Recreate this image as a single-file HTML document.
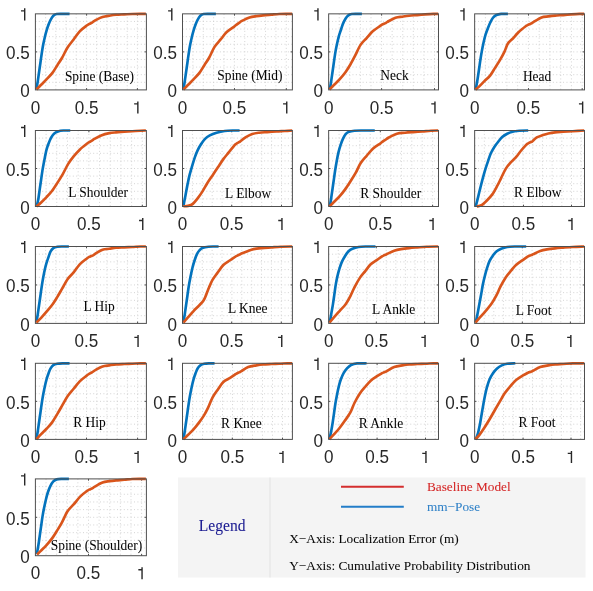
<!DOCTYPE html>
<html><head><meta charset="utf-8"><style>
html,body{margin:0;padding:0;background:#fff;width:593px;height:591px;overflow:hidden}
svg{display:block}
text{font-family:"Liberation Sans",sans-serif;font-size:18px;fill:#262626}
text.t{font-family:"Liberation Serif",serif;font-size:14px;fill:#000;stroke:#000;stroke-width:0.05px}
text.l2{font-size:13.3px}
text.lg{font-family:"Liberation Serif",serif;font-size:16.3px;fill:#16168f;stroke:#16168f;stroke-width:0.1px}
</style></head><body>
<svg width="593" height="591" viewBox="0 0 593 591">
<rect width="593" height="591" fill="#fff"/>
<g opacity="0.99">
<path d="M45.6 13.85V89.9M55.8 13.85V89.9M66 13.85V89.9M76.2 13.85V89.9M86.4 13.85V89.9M96.6 13.85V89.9M106.8 13.85V89.9M117 13.85V89.9M127.2 13.85V89.9M137.4 13.85V89.9M35.4 82.3H146.4M35.4 74.69H146.4M35.4 67.09H146.4M35.4 59.48H146.4M35.4 51.88H146.4M35.4 44.27H146.4M35.4 36.66H146.4M35.4 29.06H146.4M35.4 21.45H146.4" stroke="#cfcfcf" stroke-width="0.9" stroke-dasharray="1 2.4" fill="none"/>
<path d="M86.6 89.9v-1.8M86.6 13.85v1.8M137.4 89.9v-1.8M137.4 13.85v1.8M35.4 51.88h1.8M146.4 51.88h-1.8" stroke="#4d4d4d" stroke-width="1" fill="none"/>
<path d="M36.39 89.28C36.6 88.03 37.31 84.2 37.74 81.43C38.17 78.66 38.66 74.98 39.09 71.95C39.53 68.91 40.02 65.5 40.45 62.47C40.88 59.43 41.37 55.8 41.8 52.99C42.24 50.17 42.66 47.46 43.16 44.86C43.66 42.26 44.38 39.01 44.92 36.73C45.46 34.46 45.96 32.59 46.54 30.64C47.13 28.69 47.93 26.28 48.58 24.54C49.23 22.81 49.85 21.21 50.61 19.8C51.37 18.4 52.34 16.67 53.32 15.74C54.29 14.81 55.4 14.28 56.7 13.98C58 13.85 60.03 13.87 61.44 13.85C62.85 13.85 64.21 13.85 65.51 13.85C66.81 13.85 68.92 13.85 69.57 13.85" stroke="#0072BD" stroke-width="2.65" fill="none" stroke-linejoin="round"/>
<path d="M36.39 89.56C37.14 88.8 39.5 86.44 41.13 84.81C42.75 83.19 44.7 81.35 46.54 79.4C48.39 77.45 50.91 74.9 52.64 72.63C54.37 70.35 55.86 67.56 57.38 65.18C58.9 62.79 60.49 60.54 62.12 57.73C63.74 54.91 65.7 50.49 67.54 47.57C69.38 44.64 71.68 42.04 73.63 39.44C75.58 36.84 77.56 33.59 79.73 31.32C81.89 29.04 85.69 26.38 87.18 25.22C88.66 24.06 88.6 24.3 89 24.08C89.4 23.85 89.45 23.91 89.67 23.83C89.88 23.74 90.12 23.63 90.33 23.53C90.55 23.43 90.79 23.3 91 23.19C91.21 23.07 91.45 22.93 91.67 22.8C91.88 22.67 92.12 22.51 92.33 22.37C92.55 22.22 92.23 22.36 93 21.89C93.77 21.41 95.6 20.16 97.13 19.4C98.65 18.63 100.59 17.68 102.54 17.09C104.49 16.51 107.15 16.11 109.32 15.74C111.48 15.37 113.7 15.01 116.09 14.79C118.47 14.58 121.61 14.52 124.21 14.39C126.81 14.26 129.74 14.07 132.34 13.98C134.94 13.89 138.3 13.87 140.47 13.85C142.63 13.85 145.02 13.85 145.88 13.85" stroke="#D95319" stroke-width="2.65" fill="none" stroke-linejoin="round"/>
<rect x="35.4" y="13.85" width="111" height="76.05" fill="none" stroke="#4d4d4d" stroke-width="1"/>
<text transform="translate(35.4 113.5) scale(0.95 1)" text-anchor="middle">0</text>
<text transform="translate(86.6 113.5) scale(0.95 1)" text-anchor="middle">0.5</text>
<path d="M137.85 101.4V113.5M134.15 103.9L137.85 103.7" stroke="#262626" stroke-width="1.4" fill="none"/>
<text transform="translate(29.8 97.1) scale(0.95 1)" text-anchor="end">0</text>
<text transform="translate(29.8 59.08) scale(0.95 1)" text-anchor="end">0.5</text>
<path d="M24.7 8.35V20.45M21 10.85L24.7 10.65" stroke="#262626" stroke-width="1.4" fill="none"/>
<text class="t" transform="translate(64.9 80.9) scale(0.96 1)">Spine (Base)</text>
<path d="M192.88 13.85V89.9M203.26 13.85V89.9M213.64 13.85V89.9M224.02 13.85V89.9M234.4 13.85V89.9M244.78 13.85V89.9M255.16 13.85V89.9M265.54 13.85V89.9M275.92 13.85V89.9M286.3 13.85V89.9M182.5 82.3H292.4M182.5 74.69H292.4M182.5 67.09H292.4M182.5 59.48H292.4M182.5 51.88H292.4M182.5 44.27H292.4M182.5 36.66H292.4M182.5 29.06H292.4M182.5 21.45H292.4" stroke="#cfcfcf" stroke-width="0.9" stroke-dasharray="1 2.4" fill="none"/>
<path d="M234.5 89.9v-1.8M234.5 13.85v1.8M286.3 89.9v-1.8M286.3 13.85v1.8M182.5 51.88h1.8M292.4 51.88h-1.8" stroke="#4d4d4d" stroke-width="1" fill="none"/>
<path d="M183.39 89.28C183.6 88.03 184.31 84.2 184.74 81.43C185.17 78.66 185.66 74.98 186.09 71.95C186.53 68.91 187.02 65.5 187.45 62.47C187.88 59.43 188.37 55.8 188.8 52.99C189.24 50.17 189.66 47.46 190.16 44.86C190.66 42.26 191.38 39.01 191.92 36.73C192.46 34.46 192.96 32.59 193.54 30.64C194.13 28.69 194.93 26.28 195.58 24.54C196.23 22.81 196.85 21.21 197.61 19.8C198.37 18.4 199.34 16.67 200.32 15.74C201.29 14.81 202.4 14.28 203.7 13.98C205 13.85 207.03 13.87 208.44 13.85C209.85 13.85 211.31 13.85 212.51 13.85C213.7 13.85 215.35 13.85 215.89 13.85" stroke="#0072BD" stroke-width="2.65" fill="none" stroke-linejoin="round"/>
<path d="M183.39 89.56C184.14 88.8 186.5 86.44 188.13 84.81C189.75 83.19 191.7 81.35 193.54 79.4C195.39 77.45 197.91 74.9 199.64 72.63C201.37 70.35 202.86 67.56 204.38 65.18C205.9 62.79 207.49 60.65 209.12 57.73C210.74 54.8 212.7 49.82 214.54 46.89C216.38 43.97 218.68 41.83 220.63 39.44C222.58 37.06 224.56 34.05 226.73 31.99C228.89 29.93 232.69 27.68 234.18 26.58C235.66 25.47 235.6 25.41 236 25.09C236.4 24.77 236.45 24.74 236.67 24.58C236.88 24.42 237.12 24.24 237.33 24.08C237.55 23.92 237.79 23.75 238 23.59C238.21 23.44 238.45 23.27 238.67 23.12C238.88 22.97 239.12 22.81 239.33 22.66C239.55 22.52 239.67 22.46 240 22.22C240.33 21.98 239.89 21.91 241.42 21.16C242.94 20.4 247.16 18.3 249.54 17.5C251.93 16.7 254.15 16.49 256.32 16.15C258.48 15.8 260.7 15.57 263.09 15.33C265.47 15.1 268.61 14.87 271.21 14.66C273.81 14.44 276.74 14.11 279.34 13.98C281.94 13.85 285.41 13.87 287.47 13.85C289.53 13.85 291.45 13.85 292.21 13.85" stroke="#D95319" stroke-width="2.65" fill="none" stroke-linejoin="round"/>
<rect x="182.5" y="13.85" width="109.9" height="76.05" fill="none" stroke="#4d4d4d" stroke-width="1"/>
<text transform="translate(182.5 113.5) scale(0.95 1)" text-anchor="middle">0</text>
<text transform="translate(234.5 113.5) scale(0.95 1)" text-anchor="middle">0.5</text>
<path d="M286.75 101.4V113.5M283.05 103.9L286.75 103.7" stroke="#262626" stroke-width="1.4" fill="none"/>
<text transform="translate(176.9 97.1) scale(0.95 1)" text-anchor="end">0</text>
<text transform="translate(176.9 59.08) scale(0.95 1)" text-anchor="end">0.5</text>
<path d="M171.8 8.35V20.45M168.1 10.85L171.8 10.65" stroke="#262626" stroke-width="1.4" fill="none"/>
<text class="t" transform="translate(217.2 80.3) scale(0.96 1)">Spine (Mid)</text>
<path d="M339.23 13.85V89.9M349.82 13.85V89.9M360.4 13.85V89.9M370.99 13.85V89.9M381.57 13.85V89.9M392.16 13.85V89.9M402.75 13.85V89.9M413.33 13.85V89.9M423.91 13.85V89.9M434.5 13.85V89.9M328.65 82.3H438.5M328.65 74.69H438.5M328.65 67.09H438.5M328.65 59.48H438.5M328.65 51.88H438.5M328.65 44.27H438.5M328.65 36.66H438.5M328.65 29.06H438.5M328.65 21.45H438.5" stroke="#cfcfcf" stroke-width="0.9" stroke-dasharray="1 2.4" fill="none"/>
<path d="M381.6 89.9v-1.8M381.6 13.85v1.8M434.5 89.9v-1.8M434.5 13.85v1.8M328.65 51.88h1.8M438.5 51.88h-1.8" stroke="#4d4d4d" stroke-width="1" fill="none"/>
<path d="M329.79 89.28C330.01 88.03 330.71 84.2 331.15 81.43C331.58 78.66 332.07 74.98 332.5 71.95C332.93 68.91 333.38 65.72 333.86 62.47C334.33 59.22 334.96 54.67 335.48 51.63C336 48.6 336.56 46 337.11 43.51C337.65 41.01 338.26 38.22 338.87 36.06C339.47 33.89 340.25 31.91 340.9 29.96C341.55 28.01 342.17 25.71 342.93 23.87C343.69 22.02 344.77 19.81 345.64 18.45C346.51 17.08 347.37 16.05 348.35 15.33C349.32 14.62 350.43 14.22 351.73 13.98C353.03 13.85 354.85 13.87 356.47 13.85C358.1 13.85 361.02 13.85 361.89 13.85" stroke="#0072BD" stroke-width="2.65" fill="none" stroke-linejoin="round"/>
<path d="M329.39 89.56C330.14 88.8 332.5 86.44 334.13 84.81C335.75 83.19 337.7 81.46 339.54 79.4C341.39 77.34 343.91 74.33 345.64 71.95C347.37 69.56 348.86 67.1 350.38 64.5C351.9 61.9 353.49 58.84 355.12 55.7C356.74 52.55 358.7 47.68 360.54 44.86C362.38 42.04 364.68 40.26 366.63 38.09C368.58 35.92 370.56 33.27 372.73 31.32C374.89 29.37 378.69 26.97 380.18 25.9C381.66 24.83 381.6 24.88 382 24.63C382.4 24.37 382.45 24.42 382.67 24.33C382.88 24.23 383.12 24.12 383.33 24.03C383.55 23.93 383.79 23.82 384 23.73C384.21 23.63 384.45 23.53 384.67 23.43C384.88 23.33 385.12 23.22 385.33 23.13C385.55 23.03 385.67 23.03 386 22.83C386.33 22.62 385.89 22.64 387.42 21.84C388.94 21.03 393.16 18.6 395.54 17.77C397.93 16.95 400.15 17.01 402.32 16.69C404.48 16.36 406.7 16 409.09 15.74C411.47 15.48 414.61 15.28 417.21 15.06C419.81 14.85 422.74 14.58 425.34 14.39C427.94 14.19 431.41 13.94 433.47 13.85C435.53 13.85 437.45 13.85 438.21 13.85" stroke="#D95319" stroke-width="2.65" fill="none" stroke-linejoin="round"/>
<rect x="328.65" y="13.85" width="109.85" height="76.05" fill="none" stroke="#4d4d4d" stroke-width="1"/>
<text transform="translate(328.65 113.5) scale(0.95 1)" text-anchor="middle">0</text>
<text transform="translate(381.6 113.5) scale(0.95 1)" text-anchor="middle">0.5</text>
<path d="M434.95 101.4V113.5M431.25 103.9L434.95 103.7" stroke="#262626" stroke-width="1.4" fill="none"/>
<text transform="translate(323.05 97.1) scale(0.95 1)" text-anchor="end">0</text>
<text transform="translate(323.05 59.08) scale(0.95 1)" text-anchor="end">0.5</text>
<path d="M317.95 8.35V20.45M314.25 10.85L317.95 10.65" stroke="#262626" stroke-width="1.4" fill="none"/>
<text class="t" transform="translate(380.3 79.9) scale(0.96 1)">Neck</text>
<path d="M485.4 13.85V89.9M496.16 13.85V89.9M506.92 13.85V89.9M517.67 13.85V89.9M528.42 13.85V89.9M539.18 13.85V89.9M549.94 13.85V89.9M560.69 13.85V89.9M571.45 13.85V89.9M582.2 13.85V89.9M474.65 82.3H584.5M474.65 74.69H584.5M474.65 67.09H584.5M474.65 59.48H584.5M474.65 51.88H584.5M474.65 44.27H584.5M474.65 36.66H584.5M474.65 29.06H584.5M474.65 21.45H584.5" stroke="#cfcfcf" stroke-width="0.9" stroke-dasharray="1 2.4" fill="none"/>
<path d="M528.5 89.9v-1.8M528.5 13.85v1.8M582.2 89.9v-1.8M582.2 13.85v1.8M474.65 51.88h1.8M584.5 51.88h-1.8" stroke="#4d4d4d" stroke-width="1" fill="none"/>
<path d="M475.79 89.28C476.05 87.81 476.9 83.28 477.42 80.07C477.94 76.87 478.57 72.49 479.04 69.24C479.52 65.99 479.96 62.58 480.4 59.76C480.83 56.94 481.25 54.34 481.75 51.63C482.25 48.92 482.91 45.54 483.51 42.83C484.12 40.12 484.83 37.09 485.54 34.7C486.26 32.32 487.22 29.88 487.98 27.93C488.74 25.98 489.48 24.14 490.28 22.51C491.09 20.89 492.02 18.96 492.99 17.77C493.97 16.58 495.08 15.69 496.38 15.06C497.68 14.44 499.28 14.04 501.12 13.85C502.96 13.85 506.81 13.85 507.89 13.85" stroke="#0072BD" stroke-width="2.65" fill="none" stroke-linejoin="round"/>
<path d="M475.39 89.56C475.93 89.12 477.36 88.15 478.77 86.85C480.18 85.55 482.35 83.27 484.19 81.43C486.03 79.59 488.55 77.5 490.28 75.33C492.02 73.17 493.51 70.27 495.02 67.88C496.54 65.5 498.25 63.04 499.77 60.44C501.28 57.84 503.21 54.34 504.51 51.63C505.81 48.92 506.59 45.56 507.89 43.51C509.19 41.45 510.9 40.61 512.63 38.77C514.37 36.92 516.56 34.05 518.73 31.99C520.89 29.93 524.69 27.04 526.18 25.9C527.66 24.75 527.6 25.05 528 24.84C528.4 24.63 528.45 24.66 528.67 24.57C528.88 24.49 529.12 24.39 529.33 24.3C529.55 24.2 529.79 24.1 530 24C530.21 23.9 530.45 23.79 530.67 23.69C530.88 23.59 531.12 23.47 531.33 23.37C531.55 23.26 531.67 23.23 532 23.03C532.33 22.83 531.89 22.99 533.42 22.11C534.94 21.22 539.16 18.41 541.54 17.5C543.93 16.59 546.15 16.72 548.32 16.42C550.48 16.11 552.7 15.82 555.09 15.6C557.47 15.39 560.61 15.26 563.21 15.06C565.81 14.87 568.74 14.58 571.34 14.39C573.94 14.19 577.41 13.94 579.47 13.85C581.53 13.85 583.45 13.85 584.21 13.85" stroke="#D95319" stroke-width="2.65" fill="none" stroke-linejoin="round"/>
<rect x="474.65" y="13.85" width="109.85" height="76.05" fill="none" stroke="#4d4d4d" stroke-width="1"/>
<text transform="translate(474.65 113.5) scale(0.95 1)" text-anchor="middle">0</text>
<text transform="translate(528.5 113.5) scale(0.95 1)" text-anchor="middle">0.5</text>
<path d="M582.65 101.4V113.5M578.95 103.9L582.65 103.7" stroke="#262626" stroke-width="1.4" fill="none"/>
<text transform="translate(469.05 97.1) scale(0.95 1)" text-anchor="end">0</text>
<text transform="translate(469.05 59.08) scale(0.95 1)" text-anchor="end">0.5</text>
<path d="M463.95 8.35V20.45M460.25 10.85L463.95 10.65" stroke="#262626" stroke-width="1.4" fill="none"/>
<text class="t" transform="translate(522.9 80.8) scale(0.96 1)">Head</text>
<path d="M46.09 130.5V206.5M56.78 130.5V206.5M67.47 130.5V206.5M78.16 130.5V206.5M88.85 130.5V206.5M99.54 130.5V206.5M110.23 130.5V206.5M120.92 130.5V206.5M131.61 130.5V206.5M142.3 130.5V206.5M35.4 198.9H146.4M35.4 191.3H146.4M35.4 183.7H146.4M35.4 176.1H146.4M35.4 168.5H146.4M35.4 160.9H146.4M35.4 153.3H146.4M35.4 145.7H146.4M35.4 138.1H146.4" stroke="#cfcfcf" stroke-width="0.9" stroke-dasharray="1 2.4" fill="none"/>
<path d="M88.9 206.5v-1.8M88.9 130.5v1.8M142.3 206.5v-1.8M142.3 130.5v1.8M35.4 168.5h1.8M146.4 168.5h-1.8" stroke="#4d4d4d" stroke-width="1" fill="none"/>
<path d="M36.79 206.28C37.05 205.03 37.94 201.2 38.42 198.43C38.89 195.66 39.34 191.98 39.77 188.95C40.21 185.91 40.65 182.72 41.13 179.47C41.6 176.22 42.21 171.88 42.75 168.63C43.29 165.38 43.91 162.19 44.51 159.15C45.12 156.12 45.89 152.16 46.54 149.67C47.19 147.18 47.82 145.53 48.58 143.58C49.33 141.63 50.42 139.06 51.28 137.48C52.15 135.9 52.91 134.66 53.99 133.69C55.08 132.71 56.54 131.9 58.06 131.39C59.57 130.88 61.52 130.64 63.47 130.5C65.42 130.5 69.16 130.5 70.25 130.5" stroke="#0072BD" stroke-width="2.65" fill="none" stroke-linejoin="round"/>
<path d="M36.39 206.5C37.14 205.86 39.5 204 41.13 202.49C42.75 200.98 44.81 198.92 46.54 197.07C48.28 195.23 50.23 193.26 51.96 190.98C53.7 188.7 55.65 185.56 57.38 182.85C59.11 180.14 61.06 177.08 62.8 174.05C64.53 171.02 66.48 166.71 68.21 163.89C69.95 161.07 71.79 158.72 73.63 156.44C75.47 154.17 77.56 151.73 79.73 149.67C81.89 147.61 85.69 144.75 87.18 143.58C88.66 142.4 88.6 142.57 89 142.3C89.4 142.04 89.45 142.05 89.67 141.93C89.88 141.81 90.12 141.67 90.33 141.55C90.55 141.42 90.79 141.28 91 141.15C91.21 141.02 91.45 140.88 91.67 140.75C91.88 140.61 92.12 140.46 92.33 140.33C92.55 140.19 92.67 140.14 93 139.9C93.33 139.66 93.11 139.55 94.42 138.84C95.73 138.12 98.81 136.36 101.19 135.45C103.57 134.54 106.93 133.65 109.32 133.15C111.7 132.65 113.7 132.55 116.09 132.33C118.47 132.12 121.61 131.97 124.21 131.79C126.81 131.62 129.74 131.42 132.34 131.25C134.94 131.08 138.3 130.83 140.47 130.71C142.63 130.59 145.02 130.53 145.88 130.5" stroke="#D95319" stroke-width="2.65" fill="none" stroke-linejoin="round"/>
<rect x="35.4" y="130.5" width="111" height="76" fill="none" stroke="#4d4d4d" stroke-width="1"/>
<text transform="translate(35.4 230.1) scale(0.95 1)" text-anchor="middle">0</text>
<text transform="translate(88.9 230.1) scale(0.95 1)" text-anchor="middle">0.5</text>
<path d="M142.75 218V230.1M139.05 220.5L142.75 220.3" stroke="#262626" stroke-width="1.4" fill="none"/>
<text transform="translate(29.8 213.7) scale(0.95 1)" text-anchor="end">0</text>
<text transform="translate(29.8 175.7) scale(0.95 1)" text-anchor="end">0.5</text>
<path d="M24.7 125V137.1M21 127.5L24.7 127.3" stroke="#262626" stroke-width="1.4" fill="none"/>
<text class="t" transform="translate(68.3 197.3) scale(0.96 1)">L Shoulder</text>
<path d="M192.4 130.5V206.5M202.3 130.5V206.5M212.2 130.5V206.5M222.1 130.5V206.5M232 130.5V206.5M241.9 130.5V206.5M251.8 130.5V206.5M261.7 130.5V206.5M271.6 130.5V206.5M281.5 130.5V206.5M291.4 130.5V206.5M182.5 198.9H292.4M182.5 191.3H292.4M182.5 183.7H292.4M182.5 176.1H292.4M182.5 168.5H292.4M182.5 160.9H292.4M182.5 153.3H292.4M182.5 145.7H292.4M182.5 138.1H292.4" stroke="#cfcfcf" stroke-width="0.9" stroke-dasharray="1 2.4" fill="none"/>
<path d="M231.7 206.5v-1.8M231.7 130.5v1.8M281.5 206.5v-1.8M281.5 130.5v1.8M182.5 168.5h1.8M292.4 168.5h-1.8" stroke="#4d4d4d" stroke-width="1" fill="none"/>
<path d="M183.39 205.88C183.71 204.25 184.77 199.08 185.42 195.72C186.07 192.36 186.8 188.14 187.45 184.88C188.1 181.63 188.72 178.44 189.48 175.4C190.24 172.37 191.32 168.85 192.19 165.92C193.06 163 194.03 159.61 194.9 157.12C195.77 154.63 196.63 152.41 197.61 150.35C198.58 148.29 199.8 146.09 200.99 144.25C202.19 142.41 203.65 140.24 205.06 138.84C206.47 137.43 207.95 136.42 209.8 135.45C211.64 134.47 214.19 133.46 216.57 132.74C218.95 132.03 221.88 131.34 224.7 130.98C227.51 130.62 231.79 130.58 234.18 130.5C236.56 130.5 238.73 130.5 239.59 130.5" stroke="#0072BD" stroke-width="2.65" fill="none" stroke-linejoin="round"/>
<path d="M183.39 206.28C184.14 206.22 186.61 206.27 188.13 205.88C189.64 205.49 191.35 205.04 192.87 203.85C194.38 202.65 196.09 200.38 197.61 198.43C199.12 196.48 200.83 194.04 202.35 191.66C203.86 189.27 205.46 186.13 207.09 183.53C208.71 180.93 210.77 178 212.51 175.4C214.24 172.8 216.19 169.88 217.92 167.28C219.66 164.68 221.61 161.53 223.34 159.15C225.07 156.77 227.02 154.55 228.76 152.38C230.49 150.21 233.02 146.96 234.18 145.61C235.33 144.25 235.6 144.25 236 143.91C236.4 143.57 236.45 143.61 236.67 143.47C236.88 143.33 237.12 143.18 237.33 143.05C237.55 142.92 237.79 142.78 238 142.66C238.21 142.53 238.45 142.4 238.67 142.28C238.88 142.17 239.12 142.04 239.33 141.93C239.55 141.82 239.02 142.31 240 141.6C240.98 140.89 243.52 138.68 245.48 137.48C247.44 136.28 250.09 134.85 252.25 134.09C254.42 133.34 256.64 133.07 259.02 132.74C261.41 132.42 264.33 132.28 267.15 132.06C269.97 131.85 273.81 131.56 276.63 131.39C279.45 131.21 282.27 131.12 284.76 130.98C287.25 130.84 291.02 130.58 292.21 130.5" stroke="#D95319" stroke-width="2.65" fill="none" stroke-linejoin="round"/>
<rect x="182.5" y="130.5" width="109.9" height="76" fill="none" stroke="#4d4d4d" stroke-width="1"/>
<text transform="translate(182.5 230.1) scale(0.95 1)" text-anchor="middle">0</text>
<text transform="translate(231.7 230.1) scale(0.95 1)" text-anchor="middle">0.5</text>
<path d="M281.95 218V230.1M278.25 220.5L281.95 220.3" stroke="#262626" stroke-width="1.4" fill="none"/>
<text transform="translate(176.9 213.7) scale(0.95 1)" text-anchor="end">0</text>
<text transform="translate(176.9 175.7) scale(0.95 1)" text-anchor="end">0.5</text>
<path d="M171.8 125V137.1M168.1 127.5L171.8 127.3" stroke="#262626" stroke-width="1.4" fill="none"/>
<text class="t" transform="translate(225.1 198.4) scale(0.96 1)">L Elbow</text>
<path d="M339.04 130.5V206.5M349.44 130.5V206.5M359.83 130.5V206.5M370.23 130.5V206.5M380.62 130.5V206.5M391.02 130.5V206.5M401.42 130.5V206.5M411.81 130.5V206.5M422.21 130.5V206.5M432.6 130.5V206.5M328.65 198.9H438.5M328.65 191.3H438.5M328.65 183.7H438.5M328.65 176.1H438.5M328.65 168.5H438.5M328.65 160.9H438.5M328.65 153.3H438.5M328.65 145.7H438.5M328.65 138.1H438.5" stroke="#cfcfcf" stroke-width="0.9" stroke-dasharray="1 2.4" fill="none"/>
<path d="M380.3 206.5v-1.8M380.3 130.5v1.8M432.6 206.5v-1.8M432.6 130.5v1.8M328.65 168.5h1.8M438.5 168.5h-1.8" stroke="#4d4d4d" stroke-width="1" fill="none"/>
<path d="M329.79 206.28C330.01 205.03 330.71 201.2 331.15 198.43C331.58 195.66 332.07 191.98 332.5 188.95C332.93 185.91 333.42 182.5 333.86 179.47C334.29 176.43 334.73 173.02 335.21 169.99C335.69 166.95 336.32 163.32 336.84 160.51C337.36 157.69 337.85 154.87 338.46 152.38C339.07 149.89 339.91 147.1 340.63 144.93C341.34 142.76 342.13 140.57 342.93 138.84C343.73 137.1 344.66 135.22 345.64 134.09C346.61 132.97 347.62 132.33 349.02 131.79C350.43 131.25 352.28 130.92 354.44 130.71C356.61 130.5 359.32 130.53 362.57 130.5C365.82 130.5 372.81 130.5 374.76 130.5" stroke="#0072BD" stroke-width="2.65" fill="none" stroke-linejoin="round"/>
<path d="M329.39 206.5C330.14 205.75 332.5 203.43 334.13 201.81C335.75 200.2 337.81 198.35 339.54 196.4C341.28 194.45 343.23 192.01 344.96 189.63C346.7 187.24 348.65 184.21 350.38 181.5C352.11 178.79 354.17 175.62 355.8 172.7C357.42 169.77 358.8 165.92 360.54 163.21C362.27 160.51 364.57 158.15 366.63 155.77C368.69 153.38 371.24 150.27 373.4 148.32C375.57 146.37 378.8 144.57 380.18 143.58C381.55 142.58 381.6 142.41 382 142.09C382.4 141.77 382.45 141.74 382.67 141.58C382.88 141.42 383.12 141.25 383.33 141.1C383.55 140.95 383.79 140.78 384 140.64C384.21 140.5 384.45 140.34 384.67 140.21C384.88 140.08 385.12 139.93 385.33 139.8C385.55 139.68 385.45 139.79 386 139.42C386.55 139.05 387.03 138.4 388.77 137.48C390.52 136.56 394.3 134.45 396.9 133.69C399.5 132.93 402.42 133 405.02 132.74C407.63 132.48 410.33 132.28 413.15 132.06C415.97 131.85 419.81 131.6 422.63 131.39C425.45 131.17 428.27 130.85 430.76 130.71C433.25 130.57 437.02 130.53 438.21 130.5" stroke="#D95319" stroke-width="2.65" fill="none" stroke-linejoin="round"/>
<rect x="328.65" y="130.5" width="109.85" height="76" fill="none" stroke="#4d4d4d" stroke-width="1"/>
<text transform="translate(328.65 230.1) scale(0.95 1)" text-anchor="middle">0</text>
<text transform="translate(380.3 230.1) scale(0.95 1)" text-anchor="middle">0.5</text>
<path d="M433.05 218V230.1M429.35 220.5L433.05 220.3" stroke="#262626" stroke-width="1.4" fill="none"/>
<text transform="translate(323.05 213.7) scale(0.95 1)" text-anchor="end">0</text>
<text transform="translate(323.05 175.7) scale(0.95 1)" text-anchor="end">0.5</text>
<path d="M317.95 125V137.1M314.25 127.5L317.95 127.3" stroke="#262626" stroke-width="1.4" fill="none"/>
<text class="t" transform="translate(360.3 198.4) scale(0.96 1)">R Shoulder</text>
<path d="M484.33 130.5V206.5M494.02 130.5V206.5M503.7 130.5V206.5M513.39 130.5V206.5M523.08 130.5V206.5M532.76 130.5V206.5M542.44 130.5V206.5M552.13 130.5V206.5M561.82 130.5V206.5M571.5 130.5V206.5M581.19 130.5V206.5M474.65 198.9H584.5M474.65 191.3H584.5M474.65 183.7H584.5M474.65 176.1H584.5M474.65 168.5H584.5M474.65 160.9H584.5M474.65 153.3H584.5M474.65 145.7H584.5M474.65 138.1H584.5" stroke="#cfcfcf" stroke-width="0.9" stroke-dasharray="1 2.4" fill="none"/>
<path d="M523.5 206.5v-1.8M523.5 130.5v1.8M571.5 206.5v-1.8M571.5 130.5v1.8M474.65 168.5h1.8M584.5 168.5h-1.8" stroke="#4d4d4d" stroke-width="1" fill="none"/>
<path d="M475.79 206.28C476.16 204.81 477.36 200.07 478.09 197.07C478.83 194.08 479.64 190.63 480.4 187.59C481.16 184.56 482.01 181.15 482.84 178.11C483.66 175.08 484.68 171.45 485.54 168.63C486.41 165.81 487.39 163 488.25 160.51C489.12 158.01 489.99 155.22 490.96 153.06C491.94 150.89 493.16 148.8 494.35 146.96C495.54 145.12 497.11 143.17 498.41 141.54C499.71 139.92 501.07 138.06 502.47 136.8C503.88 135.55 505.59 134.49 507.21 133.69C508.84 132.89 510.68 132.27 512.63 131.79C514.58 131.32 516.91 130.92 519.4 130.71C521.9 130.5 526.8 130.53 528.21 130.5" stroke="#0072BD" stroke-width="2.65" fill="none" stroke-linejoin="round"/>
<path d="M476.74 206.5C477.5 206.29 479.86 206.17 481.48 205.2C483.11 204.23 485.16 202.19 486.9 200.46C488.63 198.73 490.69 196.64 492.32 194.37C493.94 192.09 495.65 188.84 497.06 186.24C498.47 183.64 499.71 180.93 501.12 178.11C502.53 175.3 504.23 171.23 505.86 168.63C507.49 166.03 509.65 163.7 511.28 161.86C512.9 160.02 514.5 158.85 516.02 157.12C517.53 155.39 519.13 152.98 520.76 151.02C522.38 149.07 525.02 146.14 526.18 144.93C527.33 143.72 527.6 143.75 528 143.45C528.4 143.15 528.45 143.17 528.67 143.05C528.88 142.93 529.12 142.8 529.33 142.69C529.55 142.59 529.79 142.47 530 142.37C530.21 142.27 530.45 142.16 530.67 142.07C530.88 141.99 531.12 141.89 531.33 141.81C531.55 141.74 531.12 142.28 532 141.59C532.88 140.89 535.06 138.53 536.8 137.48C538.55 136.43 541.06 135.69 542.9 135.04C544.74 134.39 546.37 133.85 548.32 133.42C550.27 132.98 552.7 132.59 555.09 132.33C557.47 132.07 560.4 131.97 563.21 131.79C566.03 131.62 569.34 131.46 572.7 131.25C576.05 131.04 582.37 130.62 584.21 130.5" stroke="#D95319" stroke-width="2.65" fill="none" stroke-linejoin="round"/>
<rect x="474.65" y="130.5" width="109.85" height="76" fill="none" stroke="#4d4d4d" stroke-width="1"/>
<text transform="translate(474.65 230.1) scale(0.95 1)" text-anchor="middle">0</text>
<text transform="translate(523.5 230.1) scale(0.95 1)" text-anchor="middle">0.5</text>
<path d="M571.95 218V230.1M568.25 220.5L571.95 220.3" stroke="#262626" stroke-width="1.4" fill="none"/>
<text transform="translate(469.05 213.7) scale(0.95 1)" text-anchor="end">0</text>
<text transform="translate(469.05 175.7) scale(0.95 1)" text-anchor="end">0.5</text>
<path d="M463.95 125V137.1M460.25 127.5L463.95 127.3" stroke="#262626" stroke-width="1.4" fill="none"/>
<text class="t" transform="translate(514.1 196.9) scale(0.96 1)">R Elbow</text>
<path d="M45.62 246.5V323.4M55.84 246.5V323.4M66.06 246.5V323.4M76.28 246.5V323.4M86.5 246.5V323.4M96.72 246.5V323.4M106.94 246.5V323.4M117.16 246.5V323.4M127.38 246.5V323.4M137.6 246.5V323.4M35.4 315.71H146.4M35.4 308.02H146.4M35.4 300.33H146.4M35.4 292.64H146.4M35.4 284.95H146.4M35.4 277.26H146.4M35.4 269.57H146.4M35.4 261.88H146.4M35.4 254.19H146.4" stroke="#cfcfcf" stroke-width="0.9" stroke-dasharray="1 2.4" fill="none"/>
<path d="M86.5 323.4v-1.8M86.5 246.5v1.8M137.6 323.4v-1.8M137.6 246.5v1.8M35.4 284.95h1.8M146.4 284.95h-1.8" stroke="#4d4d4d" stroke-width="1" fill="none"/>
<path d="M36.39 322.28C36.6 321.03 37.31 317.2 37.74 314.43C38.17 311.66 38.66 307.98 39.09 304.95C39.53 301.91 40.02 298.5 40.45 295.47C40.88 292.43 41.37 288.8 41.8 285.99C42.24 283.17 42.66 280.57 43.16 277.86C43.66 275.15 44.38 271.44 44.92 269.06C45.46 266.67 45.96 264.91 46.54 262.96C47.13 261.01 47.93 258.71 48.58 256.87C49.23 255.02 49.85 252.86 50.61 251.45C51.37 250.04 52.23 248.82 53.32 248.06C54.4 247.3 55.86 246.96 57.38 246.71C58.9 246.5 60.95 246.53 62.8 246.5C64.64 246.5 67.92 246.5 68.89 246.5" stroke="#0072BD" stroke-width="2.65" fill="none" stroke-linejoin="round"/>
<path d="M36.39 322.56C37.14 321.8 39.5 319.55 41.13 317.81C42.75 316.08 44.7 313.89 46.54 311.72C48.39 309.55 50.91 306.65 52.64 304.27C54.37 301.89 55.86 299.31 57.38 296.82C58.9 294.33 60.49 291.51 62.12 288.7C63.74 285.88 65.7 281.81 67.54 279.21C69.38 276.61 71.68 274.83 73.63 272.44C75.58 270.06 77.56 266.59 79.73 264.32C81.89 262.04 85.69 259.4 87.18 258.22C88.66 257.04 88.6 257.19 89 256.95C89.4 256.7 89.45 256.78 89.67 256.7C89.88 256.61 90.12 256.52 90.33 256.44C90.55 256.36 90.79 256.27 91 256.19C91.21 256.11 91.45 256.01 91.67 255.93C91.88 255.85 92.12 255.76 92.33 255.68C92.55 255.6 92.45 255.77 93 255.42C93.55 255.07 94.24 254.4 95.77 253.48C97.3 252.56 100.38 250.45 102.54 249.69C104.71 248.93 107.15 249.04 109.32 248.74C111.48 248.44 113.7 248.01 116.09 247.79C118.47 247.58 121.61 247.52 124.21 247.39C126.81 247.26 129.74 247.12 132.34 246.98C134.94 246.84 138.3 246.58 140.47 246.5C142.63 246.5 145.02 246.5 145.88 246.5" stroke="#D95319" stroke-width="2.65" fill="none" stroke-linejoin="round"/>
<rect x="35.4" y="246.5" width="111" height="76.9" fill="none" stroke="#4d4d4d" stroke-width="1"/>
<text transform="translate(35.4 347) scale(0.95 1)" text-anchor="middle">0</text>
<text transform="translate(86.5 347) scale(0.95 1)" text-anchor="middle">0.5</text>
<path d="M138.05 334.9V347M134.35 337.4L138.05 337.2" stroke="#262626" stroke-width="1.4" fill="none"/>
<text transform="translate(29.8 330.6) scale(0.95 1)" text-anchor="end">0</text>
<text transform="translate(29.8 292.15) scale(0.95 1)" text-anchor="end">0.5</text>
<path d="M24.7 241V253.1M21 243.5L24.7 243.3" stroke="#262626" stroke-width="1.4" fill="none"/>
<text class="t" transform="translate(83.4 310.5) scale(0.96 1)">L Hip</text>
<path d="M192.38 246.5V323.4M202.26 246.5V323.4M212.14 246.5V323.4M222.02 246.5V323.4M231.9 246.5V323.4M241.78 246.5V323.4M251.66 246.5V323.4M261.54 246.5V323.4M271.42 246.5V323.4M281.3 246.5V323.4M291.18 246.5V323.4M182.5 315.71H292.4M182.5 308.02H292.4M182.5 300.33H292.4M182.5 292.64H292.4M182.5 284.95H292.4M182.5 277.26H292.4M182.5 269.57H292.4M182.5 261.88H292.4M182.5 254.19H292.4" stroke="#cfcfcf" stroke-width="0.9" stroke-dasharray="1 2.4" fill="none"/>
<path d="M231.7 323.4v-1.8M231.7 246.5v1.8M281.3 323.4v-1.8M281.3 246.5v1.8M182.5 284.95h1.8M292.4 284.95h-1.8" stroke="#4d4d4d" stroke-width="1" fill="none"/>
<path d="M183.39 322.28C183.6 321.03 184.31 317.2 184.74 314.43C185.17 311.66 185.66 307.98 186.09 304.95C186.53 301.91 187.02 298.5 187.45 295.47C187.88 292.43 188.31 289.02 188.8 285.99C189.3 282.95 189.98 279.43 190.56 276.51C191.15 273.58 191.81 270.3 192.46 267.7C193.11 265.1 193.91 262.42 194.63 260.25C195.34 258.09 196.13 255.78 196.93 254.16C197.73 252.53 198.66 251.11 199.64 250.09C200.61 249.08 201.62 248.33 203.02 247.79C204.43 247.25 206.71 246.92 208.44 246.71C210.18 246.5 212.23 246.53 213.86 246.5C215.49 246.5 217.84 246.5 218.6 246.5" stroke="#0072BD" stroke-width="2.65" fill="none" stroke-linejoin="round"/>
<path d="M183.39 322.56C184.14 321.69 186.5 318.98 188.13 317.14C189.75 315.3 191.81 312.88 193.54 311.04C195.28 309.2 197.34 307.36 198.96 305.63C200.59 303.89 202.51 302.05 203.7 300.21C204.89 298.37 205.54 296.17 206.41 294.11C207.28 292.05 208.14 289.62 209.12 287.34C210.09 285.07 211.21 282.17 212.51 279.89C213.81 277.62 215.51 275.5 217.25 273.12C218.98 270.74 221.28 267.05 223.34 264.99C225.4 262.93 228.09 261.66 230.11 260.25C232.14 258.85 234.95 256.92 236 256.22C237.05 255.52 236.45 255.99 236.67 255.88C236.88 255.77 237.12 255.65 237.33 255.55C237.55 255.45 237.79 255.33 238 255.23C238.21 255.13 238.45 255.03 238.67 254.93C238.88 254.84 239.12 254.73 239.33 254.64C239.55 254.55 239.67 254.55 240 254.37C240.33 254.18 240.32 253.95 241.42 253.48C242.51 253.01 244.88 252.14 246.84 251.45C248.79 250.76 251.22 249.69 253.61 249.15C255.99 248.6 258.92 248.34 261.73 248.06C264.55 247.78 268.18 247.6 271.21 247.39C274.25 247.17 277.34 246.85 280.7 246.71C284.05 246.57 290.37 246.53 292.21 246.5" stroke="#D95319" stroke-width="2.65" fill="none" stroke-linejoin="round"/>
<rect x="182.5" y="246.5" width="109.9" height="76.9" fill="none" stroke="#4d4d4d" stroke-width="1"/>
<text transform="translate(182.5 347) scale(0.95 1)" text-anchor="middle">0</text>
<text transform="translate(231.7 347) scale(0.95 1)" text-anchor="middle">0.5</text>
<path d="M281.75 334.9V347M278.05 337.4L281.75 337.2" stroke="#262626" stroke-width="1.4" fill="none"/>
<text transform="translate(176.9 330.6) scale(0.95 1)" text-anchor="end">0</text>
<text transform="translate(176.9 292.15) scale(0.95 1)" text-anchor="end">0.5</text>
<path d="M171.8 241V253.1M168.1 243.5L171.8 243.3" stroke="#262626" stroke-width="1.4" fill="none"/>
<text class="t" transform="translate(228 312.9) scale(0.96 1)">L Knee</text>
<path d="M338.25 246.5V323.4M347.84 246.5V323.4M357.44 246.5V323.4M367.03 246.5V323.4M376.62 246.5V323.4M386.22 246.5V323.4M395.81 246.5V323.4M405.41 246.5V323.4M415 246.5V323.4M424.6 246.5V323.4M434.2 246.5V323.4M328.65 315.71H438.5M328.65 308.02H438.5M328.65 300.33H438.5M328.65 292.64H438.5M328.65 284.95H438.5M328.65 277.26H438.5M328.65 269.57H438.5M328.65 261.88H438.5M328.65 254.19H438.5" stroke="#cfcfcf" stroke-width="0.9" stroke-dasharray="1 2.4" fill="none"/>
<path d="M376.3 323.4v-1.8M376.3 246.5v1.8M424.6 323.4v-1.8M424.6 246.5v1.8M328.65 284.95h1.8M438.5 284.95h-1.8" stroke="#4d4d4d" stroke-width="1" fill="none"/>
<path d="M329.79 322.28C330.05 320.81 330.9 316.07 331.42 313.07C331.94 310.08 332.57 306.63 333.04 303.59C333.52 300.56 333.96 297.15 334.4 294.11C334.83 291.08 335.25 287.56 335.75 284.63C336.25 281.71 336.91 278.43 337.51 275.83C338.12 273.23 338.83 270.65 339.54 268.38C340.26 266.1 341.12 263.56 341.98 261.61C342.85 259.66 343.94 257.81 344.96 256.19C345.98 254.56 347.16 252.64 348.35 251.45C349.54 250.26 350.79 249.46 352.41 248.74C354.04 248.03 356.23 247.34 358.51 246.98C360.78 246.62 363.92 246.58 366.63 246.5C369.34 246.5 374.03 246.5 375.44 246.5" stroke="#0072BD" stroke-width="2.65" fill="none" stroke-linejoin="round"/>
<path d="M329.39 322.56C330.14 321.69 332.5 318.98 334.13 317.14C335.75 315.3 337.7 313.1 339.54 311.04C341.39 308.98 343.91 306.65 345.64 304.27C347.37 301.89 348.97 298.85 350.38 296.14C351.79 293.44 352.93 290.27 354.44 287.34C355.96 284.42 358.13 280.46 359.86 277.86C361.59 275.26 363.54 273.26 365.28 271.09C367.01 268.92 368.74 266.16 370.7 264.32C372.65 262.47 375.66 260.85 377.47 259.58C379.28 258.3 381.17 256.92 382 256.34C382.83 255.76 382.45 256.08 382.67 255.97C382.88 255.85 383.12 255.73 383.33 255.62C383.55 255.52 383.79 255.41 384 255.31C384.21 255.22 384.45 255.12 384.67 255.03C384.88 254.95 385.12 254.86 385.33 254.78C385.55 254.71 385.67 254.73 386 254.57C386.33 254.4 386.11 254.36 387.42 253.75C388.73 253.14 392.02 251.51 394.19 250.77C396.36 250.04 398.58 249.58 400.96 249.15C403.35 248.71 406.49 248.34 409.09 248.06C411.69 247.78 414.4 247.6 417.21 247.39C420.03 247.17 423.34 246.85 426.7 246.71C430.05 246.57 436.37 246.53 438.21 246.5" stroke="#D95319" stroke-width="2.65" fill="none" stroke-linejoin="round"/>
<rect x="328.65" y="246.5" width="109.85" height="76.9" fill="none" stroke="#4d4d4d" stroke-width="1"/>
<text transform="translate(328.65 347) scale(0.95 1)" text-anchor="middle">0</text>
<text transform="translate(376.3 347) scale(0.95 1)" text-anchor="middle">0.5</text>
<path d="M425.05 334.9V347M421.35 337.4L425.05 337.2" stroke="#262626" stroke-width="1.4" fill="none"/>
<text transform="translate(323.05 330.6) scale(0.95 1)" text-anchor="end">0</text>
<text transform="translate(323.05 292.15) scale(0.95 1)" text-anchor="end">0.5</text>
<path d="M317.95 241V253.1M314.25 243.5L317.95 243.3" stroke="#262626" stroke-width="1.4" fill="none"/>
<text class="t" transform="translate(372.1 314.4) scale(0.96 1)">L Ankle</text>
<path d="M484.22 246.5V323.4M493.8 246.5V323.4M503.38 246.5V323.4M512.95 246.5V323.4M522.52 246.5V323.4M532.1 246.5V323.4M541.67 246.5V323.4M551.25 246.5V323.4M560.82 246.5V323.4M570.4 246.5V323.4M579.98 246.5V323.4M474.65 315.71H584.5M474.65 308.02H584.5M474.65 300.33H584.5M474.65 292.64H584.5M474.65 284.95H584.5M474.65 277.26H584.5M474.65 269.57H584.5M474.65 261.88H584.5M474.65 254.19H584.5" stroke="#cfcfcf" stroke-width="0.9" stroke-dasharray="1 2.4" fill="none"/>
<path d="M522.3 323.4v-1.8M522.3 246.5v1.8M570.4 323.4v-1.8M570.4 246.5v1.8M474.65 284.95h1.8M584.5 284.95h-1.8" stroke="#4d4d4d" stroke-width="1" fill="none"/>
<path d="M475.79 322.28C476.1 320.81 477.1 316.07 477.69 313.07C478.27 310.08 478.89 306.63 479.45 303.59C480.01 300.56 480.67 297.15 481.21 294.11C481.75 291.08 482.25 287.56 482.84 284.63C483.42 281.71 484.17 278.54 484.87 275.83C485.56 273.12 486.41 270.09 487.17 267.7C487.93 265.32 488.68 262.88 489.61 260.93C490.54 258.98 491.91 257.03 492.99 255.51C494.08 254 495.08 252.53 496.38 251.45C497.68 250.37 499.39 249.46 501.12 248.74C502.85 248.03 504.94 247.34 507.21 246.98C509.49 246.62 512.31 246.58 515.34 246.5C518.37 246.5 524.44 246.5 526.18 246.5" stroke="#0072BD" stroke-width="2.65" fill="none" stroke-linejoin="round"/>
<path d="M475.39 322.56C476.14 321.69 478.5 318.98 480.13 317.14C481.75 315.3 483.7 313.21 485.54 311.04C487.39 308.88 489.91 306.09 491.64 303.59C493.37 301.1 494.97 298.18 496.38 295.47C497.79 292.76 498.93 289.59 500.44 286.66C501.96 283.74 504.13 279.78 505.86 277.18C507.59 274.58 509.65 272.36 511.28 270.41C512.9 268.46 514.07 266.73 516.02 264.99C517.97 263.26 521.55 260.96 523.47 259.58C525.38 258.19 527.17 256.91 528 256.34C528.83 255.76 528.45 256.08 528.67 255.97C528.88 255.86 529.12 255.75 529.33 255.66C529.55 255.56 529.79 255.47 530 255.39C530.21 255.31 530.45 255.23 530.67 255.17C530.88 255.1 531.12 255.04 531.33 254.99C531.55 254.94 531.67 255 532 254.87C532.33 254.73 532.11 254.77 533.42 254.16C534.73 253.55 538.02 251.8 540.19 251.04C542.36 250.28 544.58 249.85 546.96 249.42C549.35 248.98 552.49 248.62 555.09 248.33C557.69 248.05 560.4 247.87 563.21 247.66C566.03 247.44 569.34 247.16 572.7 246.98C576.05 246.79 582.37 246.58 584.21 246.5" stroke="#D95319" stroke-width="2.65" fill="none" stroke-linejoin="round"/>
<rect x="474.65" y="246.5" width="109.85" height="76.9" fill="none" stroke="#4d4d4d" stroke-width="1"/>
<text transform="translate(474.65 347) scale(0.95 1)" text-anchor="middle">0</text>
<text transform="translate(522.3 347) scale(0.95 1)" text-anchor="middle">0.5</text>
<path d="M570.85 334.9V347M567.15 337.4L570.85 337.2" stroke="#262626" stroke-width="1.4" fill="none"/>
<text transform="translate(469.05 330.6) scale(0.95 1)" text-anchor="end">0</text>
<text transform="translate(469.05 292.15) scale(0.95 1)" text-anchor="end">0.5</text>
<path d="M463.95 241V253.1M460.25 243.5L463.95 243.3" stroke="#262626" stroke-width="1.4" fill="none"/>
<text class="t" transform="translate(515.7 315.2) scale(0.96 1)">L Foot</text>
<path d="M45.62 363.3V439.4M55.84 363.3V439.4M66.06 363.3V439.4M76.28 363.3V439.4M86.5 363.3V439.4M96.72 363.3V439.4M106.94 363.3V439.4M117.16 363.3V439.4M127.38 363.3V439.4M137.6 363.3V439.4M35.4 431.79H146.4M35.4 424.18H146.4M35.4 416.57H146.4M35.4 408.96H146.4M35.4 401.35H146.4M35.4 393.74H146.4M35.4 386.13H146.4M35.4 378.52H146.4M35.4 370.91H146.4" stroke="#cfcfcf" stroke-width="0.9" stroke-dasharray="1 2.4" fill="none"/>
<path d="M86.5 439.4v-1.8M86.5 363.3v1.8M137.6 439.4v-1.8M137.6 363.3v1.8M35.4 401.35h1.8M146.4 401.35h-1.8" stroke="#4d4d4d" stroke-width="1" fill="none"/>
<path d="M36.39 439.28C36.6 438.03 37.31 434.2 37.74 431.43C38.17 428.66 38.66 424.98 39.09 421.95C39.53 418.91 40.02 415.5 40.45 412.47C40.88 409.43 41.37 405.8 41.8 402.99C42.24 400.17 42.66 397.57 43.16 394.86C43.66 392.15 44.38 388.55 44.92 386.06C45.46 383.56 45.96 381.34 46.54 379.28C47.13 377.23 47.93 374.92 48.58 373.19C49.23 371.46 49.85 369.75 50.61 368.45C51.37 367.15 52.23 365.82 53.32 365.06C54.4 364.3 55.86 363.99 57.38 363.71C58.9 363.43 60.85 363.37 62.8 363.3C64.75 363.3 68.49 363.3 69.57 363.3" stroke="#0072BD" stroke-width="2.65" fill="none" stroke-linejoin="round"/>
<path d="M36.39 439.28C37.14 438.46 39.5 435.83 41.13 434.14C42.75 432.45 44.81 430.56 46.54 428.72C48.28 426.88 50.23 425.01 51.96 422.63C53.7 420.24 55.75 416.53 57.38 413.82C59 411.11 60.49 408.51 62.12 405.7C63.74 402.88 65.7 398.92 67.54 396.21C69.38 393.51 71.68 391.15 73.63 388.77C75.58 386.38 77.56 383.48 79.73 381.32C81.89 379.15 85.69 376.4 87.18 375.22C88.66 374.04 88.6 374.21 89 373.95C89.4 373.69 89.45 373.7 89.67 373.58C89.88 373.47 90.12 373.33 90.33 373.22C90.55 373.1 90.79 372.97 91 372.85C91.21 372.73 91.45 372.6 91.67 372.48C91.88 372.36 92.12 372.23 92.33 372.11C92.55 371.99 92.45 372.11 93 371.74C93.55 371.37 94.24 370.66 95.77 369.8C97.3 368.95 100.38 367.13 102.54 366.42C104.71 365.7 107.15 365.66 109.32 365.33C111.48 365.01 113.7 364.6 116.09 364.39C118.47 364.17 121.61 364.09 124.21 363.98C126.81 363.87 129.74 363.82 132.34 363.71C134.94 363.6 138.3 363.37 140.47 363.3C142.63 363.3 145.02 363.3 145.88 363.3" stroke="#D95319" stroke-width="2.65" fill="none" stroke-linejoin="round"/>
<rect x="35.4" y="363.3" width="111" height="76.1" fill="none" stroke="#4d4d4d" stroke-width="1"/>
<text transform="translate(35.4 463) scale(0.95 1)" text-anchor="middle">0</text>
<text transform="translate(86.5 463) scale(0.95 1)" text-anchor="middle">0.5</text>
<path d="M138.05 450.9V463M134.35 453.4L138.05 453.2" stroke="#262626" stroke-width="1.4" fill="none"/>
<text transform="translate(29.8 446.6) scale(0.95 1)" text-anchor="end">0</text>
<text transform="translate(29.8 408.55) scale(0.95 1)" text-anchor="end">0.5</text>
<path d="M24.7 357.8V369.9M21 360.3L24.7 360.1" stroke="#262626" stroke-width="1.4" fill="none"/>
<text class="t" transform="translate(73.2 427.3) scale(0.96 1)">R Hip</text>
<path d="M192.5 363.3V439.4M202.5 363.3V439.4M212.5 363.3V439.4M222.5 363.3V439.4M232.5 363.3V439.4M242.5 363.3V439.4M252.5 363.3V439.4M262.5 363.3V439.4M272.5 363.3V439.4M282.5 363.3V439.4M182.5 431.79H292.4M182.5 424.18H292.4M182.5 416.57H292.4M182.5 408.96H292.4M182.5 401.35H292.4M182.5 393.74H292.4M182.5 386.13H292.4M182.5 378.52H292.4M182.5 370.91H292.4" stroke="#cfcfcf" stroke-width="0.9" stroke-dasharray="1 2.4" fill="none"/>
<path d="M232.3 439.4v-1.8M232.3 363.3v1.8M282.5 439.4v-1.8M282.5 363.3v1.8M182.5 401.35h1.8M292.4 401.35h-1.8" stroke="#4d4d4d" stroke-width="1" fill="none"/>
<path d="M183.39 439.28C183.6 438.03 184.31 434.2 184.74 431.43C185.17 428.66 185.66 424.98 186.09 421.95C186.53 418.91 187.02 415.5 187.45 412.47C187.88 409.43 188.37 405.8 188.8 402.99C189.24 400.17 189.66 397.57 190.16 394.86C190.66 392.15 191.38 388.55 191.92 386.06C192.46 383.56 192.96 381.34 193.54 379.28C194.13 377.23 194.93 374.92 195.58 373.19C196.23 371.46 196.85 369.71 197.61 368.45C198.37 367.19 199.23 366.09 200.32 365.33C201.4 364.58 202.86 364.03 204.38 363.71C205.9 363.38 208.17 363.37 209.8 363.3C211.42 363.3 213.78 363.3 214.54 363.3" stroke="#0072BD" stroke-width="2.65" fill="none" stroke-linejoin="round"/>
<path d="M183.39 439.28C184.14 438.57 186.5 436.4 188.13 434.81C189.75 433.23 191.81 431.35 193.54 429.4C195.28 427.45 197.34 424.79 198.96 422.63C200.59 420.46 202.29 418.13 203.7 415.85C205.11 413.58 206.36 411.33 207.77 408.4C209.17 405.48 210.88 400.6 212.51 397.57C214.13 394.53 216.19 391.93 217.92 389.44C219.66 386.95 221.39 383.84 223.34 381.99C225.29 380.15 228.09 379.23 230.11 377.93C232.14 376.63 234.95 374.61 236 373.9C237.05 373.19 236.45 373.62 236.67 373.5C236.88 373.37 237.12 373.24 237.33 373.12C237.55 373.01 237.79 372.89 238 372.78C238.21 372.68 238.45 372.57 238.67 372.47C238.88 372.38 239.12 372.27 239.33 372.19C239.55 372.1 239.67 372.1 240 371.94C240.33 371.77 240.11 371.93 241.42 371.16C242.73 370.38 245.81 368.03 248.19 367.09C250.57 366.16 253.93 365.77 256.32 365.33C258.7 364.9 260.7 364.6 263.09 364.39C265.47 364.17 268.61 364.09 271.21 363.98C273.81 363.87 276.74 363.82 279.34 363.71C281.94 363.6 285.41 363.37 287.47 363.3C289.53 363.3 291.45 363.3 292.21 363.3" stroke="#D95319" stroke-width="2.65" fill="none" stroke-linejoin="round"/>
<rect x="182.5" y="363.3" width="109.9" height="76.1" fill="none" stroke="#4d4d4d" stroke-width="1"/>
<text transform="translate(182.5 463) scale(0.95 1)" text-anchor="middle">0</text>
<text transform="translate(232.3 463) scale(0.95 1)" text-anchor="middle">0.5</text>
<path d="M282.95 450.9V463M279.25 453.4L282.95 453.2" stroke="#262626" stroke-width="1.4" fill="none"/>
<text transform="translate(176.9 446.6) scale(0.95 1)" text-anchor="end">0</text>
<text transform="translate(176.9 408.55) scale(0.95 1)" text-anchor="end">0.5</text>
<path d="M171.8 357.8V369.9M168.1 360.3L171.8 360.1" stroke="#262626" stroke-width="1.4" fill="none"/>
<text class="t" transform="translate(221.1 427.9) scale(0.96 1)">R Knee</text>
<path d="M338.33 363.3V439.4M348.02 363.3V439.4M357.7 363.3V439.4M367.39 363.3V439.4M377.07 363.3V439.4M386.76 363.3V439.4M396.44 363.3V439.4M406.13 363.3V439.4M415.81 363.3V439.4M425.5 363.3V439.4M435.19 363.3V439.4M328.65 431.79H438.5M328.65 424.18H438.5M328.65 416.57H438.5M328.65 408.96H438.5M328.65 401.35H438.5M328.65 393.74H438.5M328.65 386.13H438.5M328.65 378.52H438.5M328.65 370.91H438.5" stroke="#cfcfcf" stroke-width="0.9" stroke-dasharray="1 2.4" fill="none"/>
<path d="M377.1 439.4v-1.8M377.1 363.3v1.8M425.5 439.4v-1.8M425.5 363.3v1.8M328.65 401.35h1.8M438.5 401.35h-1.8" stroke="#4d4d4d" stroke-width="1" fill="none"/>
<path d="M329.39 439.28C329.67 438.03 330.6 434.2 331.15 431.43C331.69 428.66 332.3 424.98 332.77 421.95C333.25 418.91 333.69 415.5 334.13 412.47C334.56 409.43 335 405.91 335.48 402.99C335.96 400.06 336.56 396.89 337.11 394.18C337.65 391.47 338.26 388.44 338.87 386.06C339.47 383.67 340.14 381.34 340.9 379.28C341.66 377.23 342.63 374.92 343.61 373.19C344.58 371.46 345.8 369.75 346.99 368.45C348.19 367.15 349.43 365.87 351.06 365.06C352.68 364.26 354.66 363.72 357.15 363.44C359.64 363.3 365.12 363.32 366.63 363.3" stroke="#0072BD" stroke-width="2.65" fill="none" stroke-linejoin="round"/>
<path d="M329.39 439.28C330.14 438.46 332.5 435.94 334.13 434.14C335.75 432.34 337.81 430.21 339.54 428.04C341.28 425.88 343.23 423.09 344.96 420.59C346.7 418.1 348.86 415.28 350.38 412.47C351.9 409.65 352.93 406.02 354.44 402.99C355.96 399.95 358.13 396.11 359.86 393.51C361.59 390.91 363.54 388.79 365.28 386.73C367.01 384.67 368.74 382.37 370.7 380.64C372.65 378.91 375.66 377.09 377.47 375.9C379.28 374.7 381.17 373.65 382 373.16C382.83 372.68 382.45 372.97 382.67 372.88C382.88 372.79 383.12 372.69 383.33 372.61C383.55 372.52 383.79 372.42 384 372.34C384.21 372.25 384.45 372.16 384.67 372.07C384.88 371.99 385.12 371.9 385.33 371.82C385.55 371.74 385.67 371.74 386 371.57C386.33 371.4 386.11 371.47 387.42 370.75C388.73 370.04 391.81 367.96 394.19 367.09C396.57 366.23 399.93 365.77 402.32 365.33C404.7 364.9 406.7 364.6 409.09 364.39C411.47 364.17 414.61 364.09 417.21 363.98C419.81 363.87 422.74 363.82 425.34 363.71C427.94 363.6 431.41 363.37 433.47 363.3C435.53 363.3 437.45 363.3 438.21 363.3" stroke="#D95319" stroke-width="2.65" fill="none" stroke-linejoin="round"/>
<rect x="328.65" y="363.3" width="109.85" height="76.1" fill="none" stroke="#4d4d4d" stroke-width="1"/>
<text transform="translate(328.65 463) scale(0.95 1)" text-anchor="middle">0</text>
<text transform="translate(377.1 463) scale(0.95 1)" text-anchor="middle">0.5</text>
<path d="M425.95 450.9V463M422.25 453.4L425.95 453.2" stroke="#262626" stroke-width="1.4" fill="none"/>
<text transform="translate(323.05 446.6) scale(0.95 1)" text-anchor="end">0</text>
<text transform="translate(323.05 408.55) scale(0.95 1)" text-anchor="end">0.5</text>
<path d="M317.95 357.8V369.9M314.25 360.3L317.95 360.1" stroke="#262626" stroke-width="1.4" fill="none"/>
<text class="t" transform="translate(358.7 427.9) scale(0.96 1)">R Ankle</text>
<path d="M484.28 363.3V439.4M493.92 363.3V439.4M503.56 363.3V439.4M513.19 363.3V439.4M522.83 363.3V439.4M532.46 363.3V439.4M542.1 363.3V439.4M551.73 363.3V439.4M561.37 363.3V439.4M571 363.3V439.4M580.63 363.3V439.4M474.65 431.79H584.5M474.65 424.18H584.5M474.65 416.57H584.5M474.65 408.96H584.5M474.65 401.35H584.5M474.65 393.74H584.5M474.65 386.13H584.5M474.65 378.52H584.5M474.65 370.91H584.5" stroke="#cfcfcf" stroke-width="0.9" stroke-dasharray="1 2.4" fill="none"/>
<path d="M523.1 439.4v-1.8M523.1 363.3v1.8M571 439.4v-1.8M571 363.3v1.8M474.65 401.35h1.8M584.5 401.35h-1.8" stroke="#4d4d4d" stroke-width="1" fill="none"/>
<path d="M475.79 439.28C476.16 438.24 477.44 435.12 478.09 432.78C478.74 430.44 479.31 427.47 479.86 424.66C480.4 421.84 480.96 418.21 481.48 415.18C482 412.14 482.56 408.73 483.11 405.7C483.65 402.66 484.26 399.14 484.87 396.21C485.47 393.29 486.14 390.12 486.9 387.41C487.66 384.7 488.63 381.56 489.61 379.28C490.58 377.01 491.8 374.92 492.99 373.19C494.19 371.46 495.65 369.71 497.06 368.45C498.47 367.19 500.17 366.09 501.8 365.33C503.42 364.58 505.05 364.03 507.21 363.71C509.38 363.38 514.04 363.37 515.34 363.3" stroke="#0072BD" stroke-width="2.65" fill="none" stroke-linejoin="round"/>
<path d="M475.39 439.28C476.04 438.57 478.04 436.61 479.45 434.81C480.86 433.02 482.56 430.53 484.19 428.04C485.81 425.55 487.87 422.16 489.61 419.24C491.34 416.31 493.4 412.58 495.02 409.76C496.65 406.94 498.25 404.23 499.77 401.63C501.28 399.03 502.88 395.89 504.51 393.51C506.13 391.12 508.19 388.79 509.92 386.73C511.66 384.67 513.17 382.48 515.34 380.64C517.51 378.8 521.44 376.49 523.47 375.22C525.49 373.95 527.17 373.14 528 372.7C528.83 372.27 528.45 372.58 528.67 372.52C528.88 372.46 529.12 372.39 529.33 372.32C529.55 372.25 529.79 372.18 530 372.1C530.21 372.03 530.45 371.95 530.67 371.87C530.88 371.8 531.12 371.71 531.33 371.63C531.55 371.55 531.67 371.55 532 371.37C532.33 371.18 532.11 371.16 533.42 370.48C534.73 369.8 537.81 367.92 540.19 367.09C542.57 366.27 545.93 365.77 548.32 365.33C550.7 364.9 552.7 364.6 555.09 364.39C557.47 364.17 560.4 364.13 563.21 363.98C566.03 363.83 569.34 363.55 572.7 363.44C576.05 363.33 582.37 363.32 584.21 363.3" stroke="#D95319" stroke-width="2.65" fill="none" stroke-linejoin="round"/>
<rect x="474.65" y="363.3" width="109.85" height="76.1" fill="none" stroke="#4d4d4d" stroke-width="1"/>
<text transform="translate(474.65 463) scale(0.95 1)" text-anchor="middle">0</text>
<text transform="translate(523.1 463) scale(0.95 1)" text-anchor="middle">0.5</text>
<path d="M571.45 450.9V463M567.75 453.4L571.45 453.2" stroke="#262626" stroke-width="1.4" fill="none"/>
<text transform="translate(469.05 446.6) scale(0.95 1)" text-anchor="end">0</text>
<text transform="translate(469.05 408.55) scale(0.95 1)" text-anchor="end">0.5</text>
<path d="M463.95 357.8V369.9M460.25 360.3L463.95 360.1" stroke="#262626" stroke-width="1.4" fill="none"/>
<text class="t" transform="translate(518.4 427.3) scale(0.96 1)">R Foot</text>
<path d="M46.02 478.9V555.7M56.64 478.9V555.7M67.26 478.9V555.7M77.88 478.9V555.7M88.5 478.9V555.7M99.12 478.9V555.7M109.74 478.9V555.7M120.36 478.9V555.7M130.98 478.9V555.7M141.6 478.9V555.7M35.4 548.02H146.4M35.4 540.34H146.4M35.4 532.66H146.4M35.4 524.98H146.4M35.4 517.3H146.4M35.4 509.62H146.4M35.4 501.94H146.4M35.4 494.26H146.4M35.4 486.58H146.4" stroke="#cfcfcf" stroke-width="0.9" stroke-dasharray="1 2.4" fill="none"/>
<path d="M88.5 555.7v-1.8M88.5 478.9v1.8M141.6 555.7v-1.8M141.6 478.9v1.8M35.4 517.3h1.8M146.4 517.3h-1.8" stroke="#4d4d4d" stroke-width="1" fill="none"/>
<path d="M36.79 554.28C37.05 552.81 37.94 548.07 38.42 545.07C38.89 542.08 39.34 538.63 39.77 535.59C40.21 532.56 40.69 529.15 41.13 526.11C41.56 523.08 42 519.56 42.48 516.63C42.96 513.71 43.56 510.54 44.11 507.83C44.65 505.12 45.26 502.19 45.87 499.7C46.47 497.21 47.18 494.42 47.9 492.25C48.61 490.09 49.47 487.89 50.34 486.16C51.2 484.42 52.3 482.5 53.32 481.42C54.33 480.33 55.29 479.79 56.7 479.39C58.11 478.98 60.17 478.98 62.12 478.9C64.07 478.9 67.81 478.9 68.89 478.9" stroke="#0072BD" stroke-width="2.65" fill="none" stroke-linejoin="round"/>
<path d="M37.06 554.56C37.71 553.91 39.61 552.01 41.13 550.49C42.64 548.98 44.7 547.13 46.54 545.07C48.39 543.02 50.91 540.01 52.64 537.63C54.37 535.24 55.86 532.67 57.38 530.18C58.9 527.68 60.49 525.08 62.12 522.05C63.74 519.02 65.7 514.03 67.54 511.21C69.38 508.4 71.57 506.83 73.63 504.44C75.69 502.06 78.24 498.48 80.4 496.32C82.57 494.15 85.8 491.96 87.18 490.9C88.55 489.84 88.6 489.94 89 489.71C89.4 489.48 89.45 489.55 89.67 489.46C89.88 489.38 90.12 489.28 90.33 489.19C90.55 489.1 90.79 489 91 488.9C91.21 488.81 91.45 488.69 91.67 488.59C91.88 488.49 92.12 488.37 92.33 488.26C92.55 488.14 92.67 488.13 93 487.9C93.33 487.67 92.89 487.7 94.42 486.84C95.94 485.97 100.16 483.41 102.54 482.5C104.93 481.59 107.15 481.49 109.32 481.15C111.48 480.8 113.7 480.55 116.09 480.33C118.47 480.12 121.61 480.01 124.21 479.79C126.81 479.58 129.74 479.12 132.34 478.98C134.94 478.9 138.3 478.91 140.47 478.9C142.63 478.9 145.02 478.9 145.88 478.9" stroke="#D95319" stroke-width="2.65" fill="none" stroke-linejoin="round"/>
<rect x="35.4" y="478.9" width="111" height="76.8" fill="none" stroke="#4d4d4d" stroke-width="1"/>
<text transform="translate(35.4 579.3) scale(0.95 1)" text-anchor="middle">0</text>
<text transform="translate(88.5 579.3) scale(0.95 1)" text-anchor="middle">0.5</text>
<path d="M142.05 567.2V579.3M138.35 569.7L142.05 569.5" stroke="#262626" stroke-width="1.4" fill="none"/>
<text transform="translate(29.8 562.9) scale(0.95 1)" text-anchor="end">0</text>
<text transform="translate(29.8 524.5) scale(0.95 1)" text-anchor="end">0.5</text>
<path d="M24.7 473.4V485.5M21 475.9L24.7 475.7" stroke="#262626" stroke-width="1.4" fill="none"/>
<text class="t" transform="translate(50.7 549.8) scale(0.96 1)">Spine (Shoulder)</text>

<rect x="178" y="477.5" width="407.5" height="100" fill="#f4f4f4"/>
<rect x="269.5" y="477.5" width="1" height="100" fill="#e2e2e2"/>
<g opacity="0.99">
<text class="lg" transform="translate(198.8 530.7) scale(0.955 1)">Legend</text>
<path d="M341 486.8H403.8" stroke="#d42a2a" stroke-width="2"/>
<path d="M341 506.8H403.8" stroke="#1f7bc8" stroke-width="2"/>
<text class="t l2" x="426.9" y="490.8" style="fill:#d42020;stroke:#d42020">Baseline Model</text>
<text class="t l2" x="426.9" y="510.6" style="fill:#2a7ec6;stroke:#2a7ec6">mm&#8722;Pose</text>
<text class="t l2" x="289.2" y="542.8">X&#8722;Axis: Localization Error (m)</text>
<text class="t l2" x="289.2" y="569.9">Y&#8722;Axis: Cumulative Probability Distribution</text>
</g>

</g>
</svg>
</body></html>
